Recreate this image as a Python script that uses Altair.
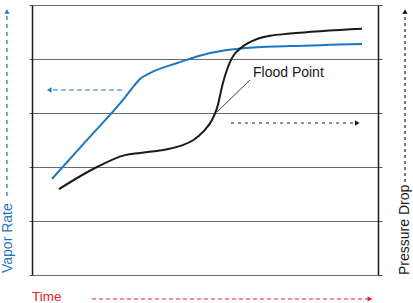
import altair as alt
import pandas as pd

# Curves (data units: x = time ticks 0..6, y = grid rows 0..5)
blue_x = [0.347, 0.971, 1.613, 1.751, 1.873, 2.046, 2.532, 3.087, 3.659, 4.474, 5.722]
blue_y = [1.78, 2.52, 3.29, 3.48, 3.63, 3.74, 3.93, 4.11, 4.20, 4.24, 4.28]

black_x = [0.468, 1.127, 1.613, 1.873, 2.341, 2.600, 2.800, 2.965, 3.121, 3.208,
           3.312, 3.468, 3.641, 3.902, 4.127, 4.474, 5.722]
black_y = [1.59, 2.00, 2.22, 2.26, 2.33, 2.40, 2.50, 2.65, 2.87, 3.09,
           3.56, 4.02, 4.22, 4.37, 4.43, 4.47, 4.56]

x_ticks = [0, 1, 2, 3, 4, 5, 6]
y_ticks = [0, 1, 2, 3, 4, 5]

# Annotation arrows: start, end
blue_arrow = dict(x=[1.561], x2=[0.30], y=[3.426], y2=[3.426])
blue_head = dict(x=[0.30], y=[3.426])
black_arrow = dict(x=[3.451], x2=[5.64], y=[2.815], y2=[2.815])
black_head = dict(x=[5.64], y=[2.815])
red_arrow = dict(x=[1.040], x2=[5.86], y=[-0.444], y2=[-0.444])
red_head = dict(x=[5.86], y=[-0.444])
vblue_arrow = dict(x=[-0.434], x2=[-0.434], y=[1.463], y2=[4.88])
vblue_head = dict(x=[-0.434], y=[4.88])
vblack_arrow = dict(x=[6.468], x2=[6.468], y=[1.722], y2=[4.88])
vblack_head = dict(x=[6.468], y=[4.88])

flood_line = dict(x=[3.780], x2=[3.208], y=[3.611], y2=[3.019])
labels_text = ["Flood Point", "Time", "Vapor Rate", "Pressure Drop"]

BLUE = "#1a78c2"
BLACK = "#1a1a1a"
RED = "#e8202a"
FONT = "Liberation Sans"

xs = alt.Scale(domain=[0, 6], nice=False)
ys = alt.Scale(domain=[0, 5], nice=False)

x_axis = alt.Axis(values=x_ticks, labels=False, title=None, tickSize=6, tickColor="#555",
                  domainColor=BLACK, domainWidth=1.5, grid=False)
y_axis = alt.Axis(values=y_ticks, labels=False, title=None, tickSize=3, tickColor="#555",
                  domainColor=BLACK, domainWidth=1.5, grid=True, gridColor="#6a6a6a",
                  gridWidth=1, gridOpacity=1)
y_axis_r = alt.Axis(values=y_ticks, labels=False, title=None, tickSize=4, tickColor="#555",
                    domainColor=BLACK, domainWidth=1.5, grid=False, orient="right")

blue_df = pd.DataFrame({"x": blue_x, "y": blue_y})
black_df = pd.DataFrame({"x": black_x, "y": black_y})

blue_line = alt.Chart(blue_df).mark_line(color=BLUE, strokeWidth=2, interpolate="monotone").encode(
    x=alt.X("x:Q", scale=xs, axis=x_axis),
    y=alt.Y("y:Q", scale=ys, axis=y_axis),
)
black_line = alt.Chart(black_df).mark_line(color=BLACK, strokeWidth=2, interpolate="monotone").encode(
    x=alt.X("x:Q", scale=xs, axis=None),
    y=alt.Y("y:Q", scale=ys, axis=y_axis_r),
)


def rule(d, color, dash, width=1.2):
    return alt.Chart(pd.DataFrame(d)).mark_rule(color=color, strokeDash=dash, strokeWidth=width).encode(
        x=alt.X("x:Q", scale=xs, axis=None), x2="x2:Q",
        y=alt.Y("y:Q", scale=ys, axis=None), y2="y2:Q"
    )


def head(d, color, shape):
    return alt.Chart(pd.DataFrame(d)).mark_point(shape=shape, filled=True, opacity=1, color=color, size=28).encode(
        x=alt.X("x:Q", scale=xs, axis=None), y=alt.Y("y:Q", scale=ys, axis=None)
    )


def label(x, y, text, color, angle=0, align="left", size=14):
    d = pd.DataFrame({"x": [x], "y": [y], "t": [text]})
    return alt.Chart(d).mark_text(color=color, font=FONT, fontSize=size, align=align,
                                  baseline="middle", angle=angle).encode(
        x=alt.X("x:Q", scale=xs, axis=None), y=alt.Y("y:Q", scale=ys, axis=None), text="t:N"
    )


layers = [
    blue_line,
    black_line,
    rule(blue_arrow, BLUE, [5, 3]), head(blue_head, BLUE, "triangle-left"),
    rule(black_arrow, BLACK, [3, 4]), head(black_head, BLACK, "triangle-right"),
    rule(red_arrow, RED, [4, 3]), head(red_head, RED, "triangle-right"),
    rule(vblue_arrow, BLUE, [4, 4]), head(vblue_head, BLUE, "triangle-up"),
    rule(vblack_arrow, BLACK, [3, 3]), head(vblack_head, BLACK, "triangle-up"),
    rule(flood_line, BLACK, [1, 0], width=1),
    label(3.832, 3.741, labels_text[0], BLACK),
    label(0.0, -0.40, labels_text[1], RED, size=13.5),
    label(-0.416, 0.037, labels_text[2], BLUE, angle=270),
    label(6.468, 0.0, labels_text[3], BLACK, angle=270),
]

chart = alt.layer(*layers).resolve_axis(y="independent").properties(
    width=346, height=270,
    autosize=alt.AutoSizeParams(type="none"),
    padding={"left": 32, "top": 5, "right": 35, "bottom": 28},
).configure_view(stroke=BLACK, strokeWidth=1.5).configure(background="white")

chart.save("out.html", embed_options={"renderer": "svg", "actions": False})
